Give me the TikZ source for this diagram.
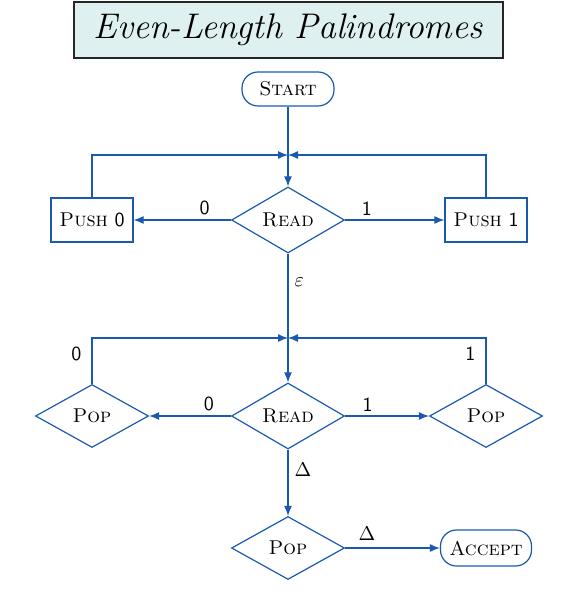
\documentclass[tikz,border=0pt]{standalone}
\usetikzlibrary{arrows.meta,shapes.geometric,positioning}

\definecolor{flowblue}{RGB}{25,90,175}
\definecolor{titlefill}{RGB}{222,240,240}

\tikzset{
  flow/.style = {draw=flowblue, line width=0.6pt, -{Latex[length=5pt,width=4pt]}},
  line/.style = {draw=flowblue, line width=0.6pt},
  decide/.style = {diamond, draw=flowblue, line width=0.6pt, inner sep=0pt,
                   minimum width=56.5pt, minimum height=31.5pt},
  stepbox/.style = {rectangle, draw=flowblue, line width=0.6pt, inner sep=0pt,
                    minimum width=41pt, minimum height=22pt},
  term/.style = {rectangle, rounded corners=8pt, draw=flowblue, line width=0.6pt,
                 inner sep=0pt, minimum width=46pt, minimum height=17pt},
  lbl/.style = {font=\sffamily, inner sep=2pt}
}

\begin{document}
\begin{tikzpicture}[x=0.5pt, y=-0.5pt]
    \useasboundingbox (0,0) rectangle (586,592);

    % Title
    \node[draw=black!85, line width=1pt, fill=titlefill, minimum width=214.5pt,
          minimum height=28pt] (title) at (288,30)
          {\fontsize{17.8}{20}\selectfont\itshape Even-Length Palindromes};

    % Nodes
    \node[term] (start) at (288,89) {\textsc{Start}};
    \coordinate (j1) at (288,155);
    \node[decide] (read1) at (288,220) {\textsc{Read}};
    \node[stepbox] (push0) at (92,220) {\textsc{Push} \textsf{0}};
    \node[stepbox] (push1) at (486,220) {\textsc{Push} \textsf{1}};

    \coordinate (j2) at (288,338);
    \node[decide] (read2) at (288,416) {\textsc{Read}};
    \node[decide] (pop0) at (92,416) {\textsc{Pop}};
    \node[decide] (pop1) at (486,416) {\textsc{Pop}};
    \node[decide] (pop2) at (288,548) {\textsc{Pop}};
    \node[term, minimum width=45.5pt, minimum height=18pt] (accept) at (486,548) {\textsc{Accept}};

    % Edges
    \draw[line] (start) -- (j1);
    \draw[flow] (j1) -- (read1);
    \draw[flow] (read1) -- node[lbl, pos=0.27, above] {0} (push0);
    \draw[flow] (read1) -- node[lbl, pos=0.22, above] {1} (push1);
    \draw[flow] (push0.north) |- (j1);
    \draw[flow] (push1.north) |- (j1);

    \draw[line] (read1) -- node[pos=0.34, right, inner sep=3pt] {$\varepsilon$} (j2);
    \draw[flow] (j2) -- (read2);
    \draw[flow] (pop0.north) |- node[lbl, pos=0.33, left, inner sep=5pt] {0} (j2);
    \draw[flow] (pop1.north) |- node[lbl, pos=0.33, left, inner sep=5pt] {1} (j2);
    \draw[flow] (read2) -- node[lbl, pos=0.27, above] {0} (pop0);
    \draw[flow] (read2) -- node[lbl, pos=0.27, above] {1} (pop1);

    \draw[flow] (read2) -- node[pos=0.3, right, inner sep=3pt] {$\Delta$} (pop2);
    \draw[flow] (pop2) -- node[pos=0.23, above] {$\Delta$} (accept);
\end{tikzpicture}
\end{document}
